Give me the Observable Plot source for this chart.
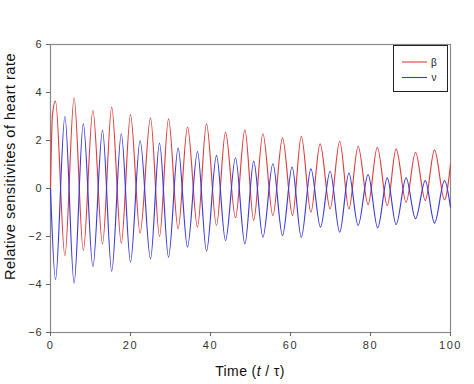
<!DOCTYPE html>
<html>
<head>
<meta charset="utf-8">
<script src="https://cdn.jsdelivr.net/npm/d3@7"></script>
<script src="https://cdn.jsdelivr.net/npm/@observablehq/plot@0.6"></script>
<style>
  html, body { margin: 0; padding: 0; background: #fff; }
  #chart svg { display: block; }
  #chart g[aria-label="x-axis tick label"] text { letter-spacing: 1.6px; }
  #chart g[aria-label="y-axis tick label"] text { letter-spacing: 0.8px; }
  #chart .ytitle text { letter-spacing: 0.5px; }
</style>
</head>
<body>
<div id="chart"></div>
<script>
// Series names and colours
const seriesNames = ["β", "ν"];
const seriesColors = ["#e23d3d", "#3b3bdd"];

// β (red): extrema
const betaTime = [0, 0.5, 1.25, 3.6, 5.9, 8.2, 10.6, 13.0, 15.3, 17.7, 20.0, 22.4, 25.0, 27.25, 29.5, 31.9, 34.25, 36.75, 39.0, 41.5, 43.75, 46.25, 48.6, 50.8, 53.1, 55.6, 58.0, 60.5, 62.7, 65.1, 67.4, 69.9, 72.3, 74.6, 76.9, 79.4, 81.7, 84.2, 86.4, 88.9, 91.25, 93.7, 96.0, 98.5, 100];
const betaValue = [0, 3.1, 3.64, -2.8, 3.78, -2.58, 3.25, -2.31, 3.39, -2.28, 3.08, -1.85, 2.94, -2.0, 2.9, -1.68, 2.56, -1.61, 2.69, -1.54, 2.35, -1.22, 2.44, -1.33, 2.28, -1.13, 2.11, -1.12, 2.17, -0.99, 1.86, -0.85, 1.97, -0.85, 1.76, -0.67, 1.72, -0.71, 1.65, -0.57, 1.51, -0.5, 1.61, -0.47, 1.0];

// ν (blue): extrema
const nuTime = [0, 1.25, 3.6, 5.9, 8.2, 10.6, 13.0, 15.3, 17.7, 20.0, 22.4, 25.0, 27.25, 29.5, 31.9, 34.25, 36.75, 39.0, 41.5, 43.75, 46.25, 48.6, 50.8, 53.1, 55.6, 58.0, 60.4, 62.7, 65.1, 67.5, 69.9, 72.3, 74.6, 76.9, 79.4, 81.8, 84.2, 86.4, 88.9, 91.25, 93.7, 96.0, 98.5, 100];
const nuValue = [0, -3.79, 3.0, -3.93, 2.69, -3.25, 2.42, -3.44, 2.28, -3.07, 2.0, -2.93, 1.89, -2.86, 1.68, -2.44, 1.54, -2.61, 1.38, -2.17, 1.28, -2.31, 1.14, -2.03, 1.03, -1.96, 0.89, -2.03, 0.82, -1.61, 0.72, -1.82, 0.64, -1.54, 0.58, -1.64, 0.44, -1.5, 0.44, -1.26, 0.33, -1.44, 0.33, -0.78];

// Axis ticks and titles
const xTicks = [0, 20, 40, 60, 80, 100];
const yTicks = [-6, -4, -2, 0, 2, 4, 6];
const yTitle = "Relative sensitivites of heart rate";

const beta = betaTime.map((t, i) => ({t, v: betaValue[i]}));
const nu = nuTime.map((t, i) => ({t, v: nuValue[i]}));

const font = "'Liberation Sans', Arial, sans-serif";

const chart = Plot.plot({
  width: 474,
  height: 384,
  marginLeft: 50,
  marginRight: 24,
  marginTop: 44,
  marginBottom: 52,
  style: {fontFamily: font, fontSize: "11px", color: "#222", background: "#fff"},
  x: {domain: [0, 100]},
  y: {domain: [-6, 6]},
  marks: [
    Plot.frame({stroke: "#8a8a8a", strokeWidth: 1.2}),
    Plot.axisX({ticks: xTicks, tickSize: 4, tickPadding: 5, label: null, stroke: "#666", fill: "#333", fontSize: 11}),
    Plot.axisY({ticks: yTicks, tickSize: 4, tickPadding: 4, label: null, stroke: "#666", fill: "#333", fontSize: 11}),
    Plot.line(beta, {x: "t", y: "v", curve: "monotone-x", stroke: seriesColors[0], strokeWidth: 1.15}),
    Plot.line(nu, {x: "t", y: "v", curve: "monotone-x", stroke: seriesColors[1], strokeWidth: 1.15}),
    Plot.text([yTitle], {frameAnchor: "left", dx: -40, dy: -22, rotate: -90, textAnchor: "middle", fontSize: 14.5, fill: "#111", className: "ytitle"})
  ]
});

const svg = d3.select(chart);

// X axis title with italic t
const xt = svg.append("text")
  .attr("x", 250).attr("y", 376)
  .attr("text-anchor", "middle")
  .attr("font-family", font)
  .attr("font-size", 14)
  .attr("letter-spacing", "0.4px")
  .attr("fill", "#111");
xt.append("tspan").text("Time (");
xt.append("tspan").attr("font-style", "italic").text("t");
xt.append("tspan").text(" / τ)");

// Legend box
const lg = svg.append("g");
lg.append("rect").attr("x", 393.5).attr("y", 45.5).attr("width", 54).attr("height", 46)
  .attr("fill", "#fff").attr("stroke", "#222").attr("stroke-width", 1);
seriesNames.forEach((name, i) => {
  const y = 62 + i * 15.5;
  lg.append("line").attr("x1", 402).attr("x2", 427).attr("y1", y).attr("y2", y)
    .attr("stroke", seriesColors[i]).attr("stroke-width", 1.1);
  lg.append("text").attr("x", 434).attr("y", y + 3.5)
    .attr("font-family", font).attr("font-size", 10).attr("fill", "#222").text(name);
});

document.getElementById("chart").append(chart);
</script>
</body>
</html>
